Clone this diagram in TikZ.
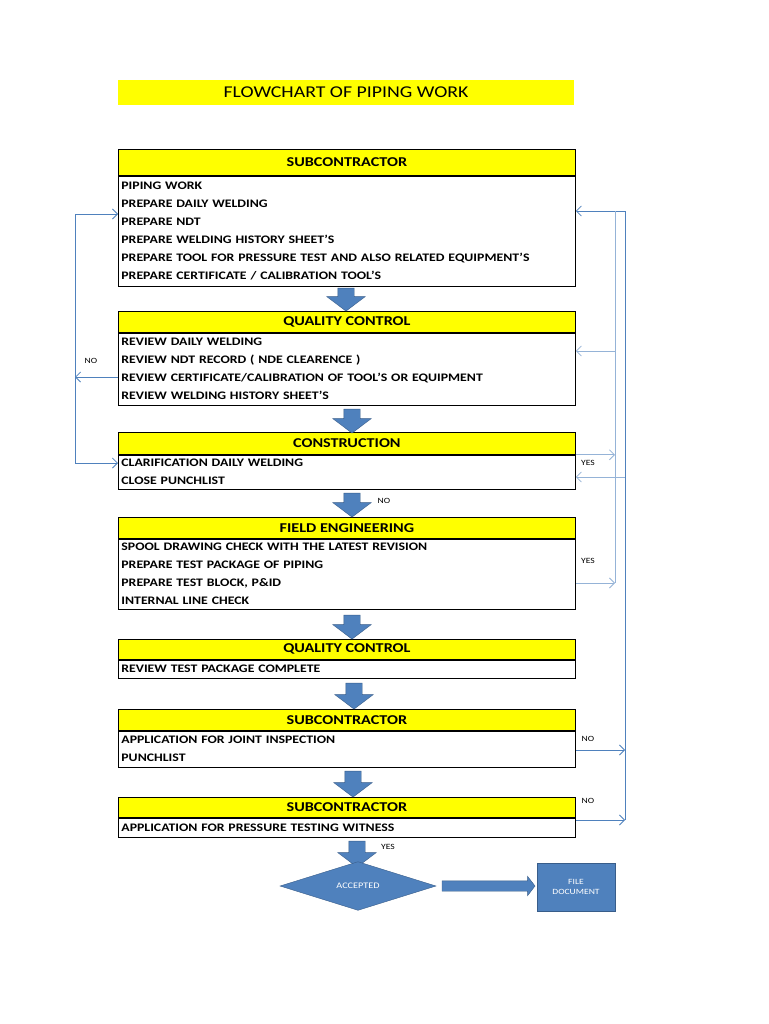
\documentclass[tikz,border=0pt]{standalone}
\usepackage{fontspec}
\setmainfont{Carlito}[FakeStretch=1.2]
\usetikzlibrary{positioning}
\usetikzlibrary{shapes.geometric}
\usetikzlibrary{shapes.arrows}
\usetikzlibrary{arrows.meta}
\definecolor{pw-yellow}{HTML}{FFFF00}
\definecolor{pw-blue}{HTML}{4F81BD}
\definecolor{pw-edge}{HTML}{385D8A}
\definecolor{pw-light}{HTML}{95B3D7}

\begin{document}
\begin{tikzpicture}[x=1pt, y=-1pt,
  hdr/.style={draw, line width=0.8pt, fill=pw-yellow, anchor=north west, minimum width=457pt,
    inner sep=0pt, font=\bfseries\fontsize{13.5}{16}\selectfont},
  body/.style={draw, line width=0.8pt, anchor=north west, minimum width=457pt, text width=451pt,
    align=left, inner xsep=2pt, inner ysep=0pt, font=\bfseries\fontsize{11.5}{18}\selectfont},
  down arrow/.style={single arrow, shape border rotate=270, fill=pw-blue, draw=pw-edge,
    minimum width=38pt, single arrow head extend=11pt, single arrow tip angle=106,
    inner xsep=8pt, inner ysep=0pt},
  link/.style={draw=pw-blue, line width=0.8pt, arrows={-Straight Barb[length=5pt, width=10pt]}},
  link light/.style={link, draw=pw-light},
  tag/.style={inner sep=1pt, font=\fontsize{8}{9}\selectfont}]
\useasboundingbox[fill=white] (0,0) rectangle (768,1024);

% title
\node[fill=pw-yellow, minimum width=456pt, minimum height=25pt, inner sep=0pt,
  font=\fontsize{16.5}{18}\selectfont]
  (title) at (346,92.5) {FLOWCHART OF PIPING WORK};

% boxes
\node[hdr, minimum height=26pt] (sc1-h) at (118,149) {SUBCONTRACTOR};
\node[body, minimum height=110pt] (sc1) at (sc1-h.south west)
  {PIPING WORK\\PREPARE DAILY WELDING\\PREPARE NDT\\PREPARE WELDING HISTORY SHEET'S\\
   PREPARE TOOL FOR PRESSURE TEST AND ALSO RELATED EQUIPMENT'S\\
   PREPARE CERTIFICATE / CALIBRATION TOOL'S};

\node[hdr, minimum height=21pt] (qc1-h) at (118,311) {QUALITY CONTROL};
\node[body, minimum height=72pt] (qc1) at (qc1-h.south west)
  {REVIEW DAILY WELDING\\REVIEW NDT RECORD ( NDE CLEARENCE )\\
   REVIEW CERTIFICATE/CALIBRATION OF TOOL'S OR EQUIPMENT\\REVIEW WELDING HISTORY SHEET'S};

\node[hdr, minimum height=22pt] (con-h) at (118,432) {CONSTRUCTION};
\node[body, minimum height=34pt] (con) at (con-h.south west)
  {CLARIFICATION DAILY WELDING\\CLOSE PUNCHLIST};

\node[hdr, minimum height=21pt] (fe-h) at (118,517) {FIELD ENGINEERING};
\node[body, minimum height=70pt] (fe) at (fe-h.south west)
  {SPOOL DRAWING CHECK WITH THE LATEST REVISION\\PREPARE TEST PACKAGE OF PIPING\\
   PREPARE TEST BLOCK, P\&ID\\INTERNAL LINE CHECK};

\node[hdr, minimum height=20pt] (qc2-h) at (118,639) {QUALITY CONTROL};
\node[body, minimum height=18pt] (qc2) at (qc2-h.south west)
  {REVIEW TEST PACKAGE COMPLETE};

\node[hdr, minimum height=21pt] (sc2-h) at (118,709) {SUBCONTRACTOR};
\node[body, minimum height=36pt] (sc2) at (sc2-h.south west)
  {APPLICATION FOR JOINT INSPECTION\\PUNCHLIST};

\node[hdr, minimum height=20pt] (sc3-h) at (118,797) {SUBCONTRACTOR};
\node[body, minimum height=19pt] (sc3) at (sc3-h.south west)
  {APPLICATION FOR PRESSURE TESTING WITNESS};

% block arrows between the boxes
\foreach \x/\y/\len [count=\i] in {346/296.5/23, 352/418/24, 352/502/24, 352/624/24,
    354/693/26, 353/781/26, 357/851/26}
  \node[down arrow, minimum height=\len pt] (arrow-\i) at (\x,\y) {};

\node[diamond, fill=pw-blue, draw=pw-edge, minimum width=156pt, minimum height=46pt,
  inner sep=0pt, text=white, font=\fontsize{8.5}{10}\selectfont]
  (accepted) at (358,886) {ACCEPTED};
\node[fill=pw-blue, draw=pw-edge, minimum width=78pt, minimum height=48pt, inner sep=0pt,
  align=center, text=white, font=\fontsize{8}{10}\selectfont]
  (file) at (576,887) {FILE\\DOCUMENT};
\node[single arrow, fill=pw-blue, draw=pw-edge, minimum height=93pt, minimum width=19pt,
  single arrow head extend=4.5pt, single arrow tip angle=105, inner xsep=0pt, inner ysep=5pt]
  (arrow-file) at (486.5,886) {};

% left loop
\coordinate (l-top) at (75,214);
\coordinate (l-bot) at (75,463);
\coordinate (l-no) at (75,377);
\draw[link, arrows={Straight Barb[length=5pt, width=10pt]-Straight Barb[length=5pt, width=10pt]}]
  (sc1.west |- l-top) -- (l-top) -- (l-bot) -- (con.west |- l-bot);
\draw[link] (qc1.west |- l-no) -- (l-no);

% right loops
\coordinate (ro-top) at (625,211);
\coordinate (ro-bot) at (625,820);
\coordinate (ri-top) at (615,211);
\coordinate (ri-bot) at (615,583);
\draw[link] (ro-bot) -- (ro-top) -- (sc1.east |- ro-top);
\draw[link light, -] (ri-top) -- (ri-bot);
\draw[link light] (ri-top |- 0,351) -- (qc1.east |- 0,351);
\draw[link light] (con.north east) -- (ri-top |- con.north east);
\draw[link light] (ro-top |- 0,477) -- (con.east |- 0,477);
\draw[link light] (fe.east |- ri-bot) -- (ri-bot);
\draw[link] (sc2.east |- 0,750) -- (ro-top |- 0,750);
\draw[link] (sc3.east |- ro-bot) -- (ro-bot);

% labels
\node[tag] (no-left) at (91,361) {NO};
\node[tag] (yes-con) at (588,463) {YES};
\node[tag] (no-con) at (384,501) {NO};
\node[tag] (yes-fe) at (588,561) {YES};
\node[tag] (no-sc2) at (588,739) {NO};
\node[tag] (no-sc3) at (588,801) {NO};
\node[tag] (yes-sc3) at (388,847) {YES};
\end{tikzpicture}
\end{document}
